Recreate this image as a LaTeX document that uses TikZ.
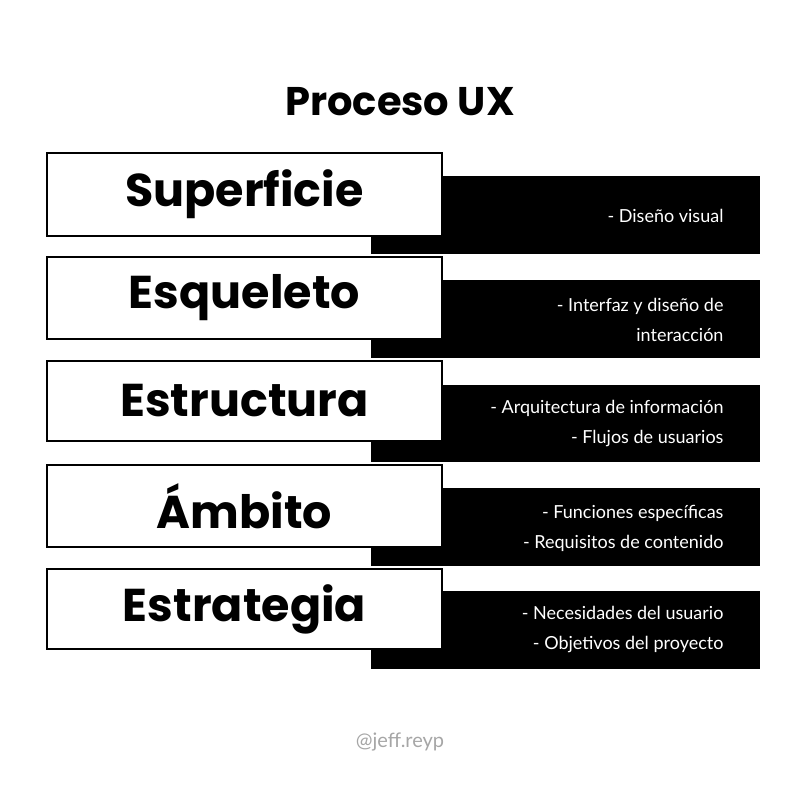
\documentclass[tikz,border=0pt]{standalone}
\usepackage{fontspec}
\setmainfont{Poppins}
\newfontfamily\lightf{Lato}
\begin{document}
\begin{tikzpicture}[x=1pt,y=-1pt,
  wbox/.style={draw=black,line width=2pt,fill=white,minimum width=395pt,anchor=north west,inner sep=0pt},
  bbox/.style={fill=black,minimum width=389pt,anchor=north west,inner sep=0pt},
  btxt/.style={font=\fontsize{46}{50}\selectfont\bfseries},
  rtxt/.style={font=\lightf\fontsize{18}{30}\selectfont,text=white,align=right,anchor=east}]
\useasboundingbox (0,0) rectangle (800,800);
\node[font=\fontsize{40}{44}\selectfont\bfseries] (title) at (400,102) {Proceso UX};
% black boxes
\node[bbox,minimum height=78pt] (b1) at (371,176) {};
\node[bbox,minimum height=78pt] (b2) at (371,280) {};
\node[bbox,minimum height=77pt] (b3) at (371,385) {};
\node[bbox,minimum height=78pt] (b4) at (371,488) {};
\node[bbox,minimum height=78pt] (b5) at (371,591) {};
\node[rtxt] (t1) at (727,216) {- Diseño visual};
\node[rtxt] (t2) at (727,320) {- Interfaz y diseño de\\interacción};
\node[rtxt] (t3) at (727,424) {- Arquitectura de información\\- Flujos de usuarios};
\node[rtxt] (t4) at (727,528) {- Funciones específicas\\- Requisitos de contenido};
\node[rtxt] (t5) at (727,630) {- Necesidades del usuario\\- Objetivos del proyecto};
% white boxes
\node[wbox,minimum height=83pt] (w1) at (46,152) {};
\node[wbox,minimum height=82pt] (w2) at (46,256) {};
\node[wbox,minimum height=80pt] (w3) at (46,360) {};
\node[wbox,minimum height=82pt] (w4) at (46,464) {};
\node[wbox,minimum height=80pt] (w5) at (46,568) {};
\node[btxt] at (w1.center) {Superficie};
\node[btxt] at (w2.center) {Esqueleto};
\node[btxt] at (w3.center) {Estructura};
\node[btxt] at (w4.center) {Ámbito};
\node[btxt] at (w5.center) {Estrategia};
\node[font=\lightf\fontsize{20}{24}\selectfont,text=black!35] (wm) at (400,742) {@jeff.reyp};
\end{tikzpicture}
\end{document}
